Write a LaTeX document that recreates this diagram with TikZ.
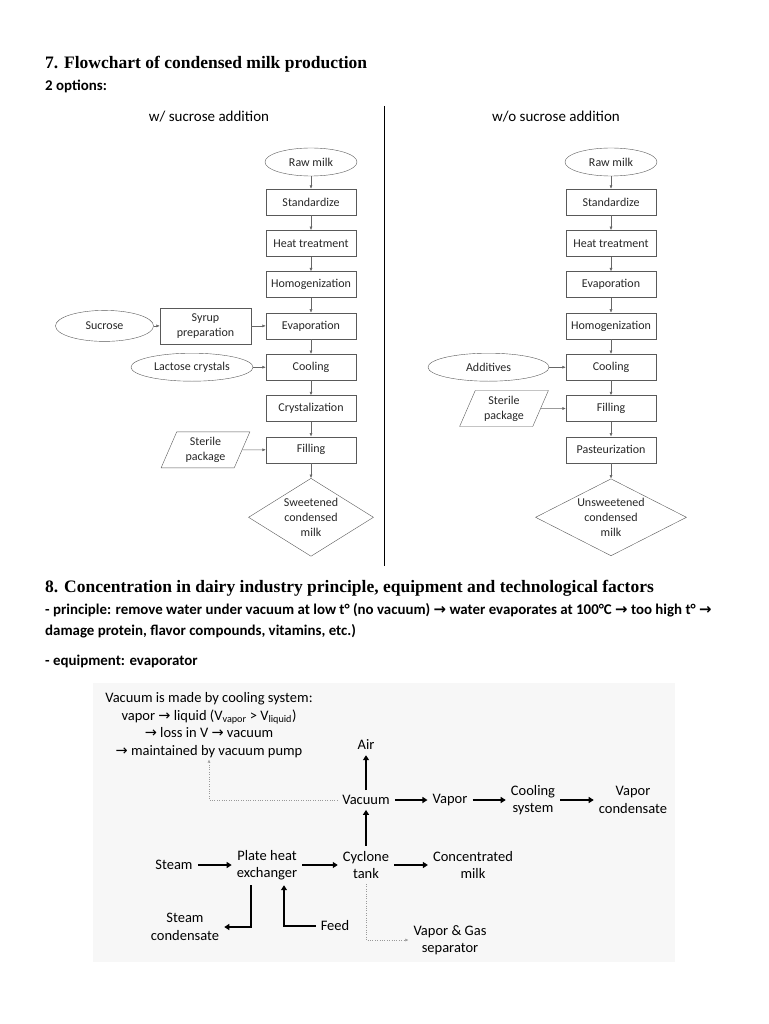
\documentclass[tikz,border=0pt]{standalone}
\usepackage{fontspec}
\setmainfont{Carlito}
\newfontfamily\headfont{Liberation Serif}
\newfontfamily\symfont{DejaVu Sans}
\usepackage{tikz}
\usetikzlibrary{shapes,arrows.meta,positioning}
\newcommand{\rarr}{{\symfont\char"2192}}
\newcommand{\flowfont}{\fontsize{12}{15}\selectfont}
\tikzset{block/.style={draw=black!65, rectangle, font=\flowfont, text=black!85,
		minimum height=26pt, minimum width=90pt, align=center},
	term/.style={draw=black!65, ellipse, font=\flowfont, text=black!85,
		minimum height=28pt, minimum width=92pt, inner sep=1pt},
	decision/.style={draw=black!65, diamond, font=\flowfont, text=black!85,
		align=center, inner sep=0pt},
	io/.style={draw=black!65, trapezium, trapezium left angle=67, trapezium right angle=113,
		trapezium stretches=true, minimum height=36pt, minimum width=89pt,
		font=\flowfont, text=black!85, align=center, inner sep=0pt},
	arrow/.style={draw=black!60, line width=0.5pt, -{Latex[length=3.5pt,width=3pt]}},
	bigarrow/.style={draw, line width=1.5pt, -{Triangle[length=5pt,width=6pt]}},
	dotarrow/.style={draw=black!40, dotted, -{Latex[length=3pt,width=3pt]}},
	stage/.style={font=\fontsize{14.5}{17.5}\selectfont, align=center, inner sep=5pt},
	heading/.style={font=\headfont\bfseries\fontsize{17.5}{20}\selectfont, anchor=west, inner sep=0pt},
	para/.style={font=\bfseries\fontsize{14.9}{18}\selectfont, anchor=west, inner sep=0pt},
	subhead/.style={font=\fontsize{15}{18}\selectfont}}

\begin{document}
\begin{tikzpicture}[x=1pt,y=-1pt,node distance=41.3pt]
	\useasboundingbox (0,0) rectangle (768,1024);
	
	% section 7
	\node [heading] (head7) at (45,64) {7. Flowchart of condensed milk production};
	\node [para] (options) at (45,86) {2 options:};
	\node [subhead] (withS) at (209,117) {w/ sucrose addition};
	\node [subhead] (withoutS) at (556,117) {w/o sucrose addition};
	\draw [line width=1.6pt] (384.5,106)--(384.5,566);
	
	% w/ sucrose
	\node [term] (rawL) at (311,162) {Raw milk};
	\node [block, below of=rawL, node distance=40pt] (stdL) {Standardize};
	\node [block, below of=stdL] (heatL) {Heat treatment};
	\node [block, below of=heatL] (homL) {Homogenization};
	\node [block, below of=homL] (evapL) {Evaporation};
	\node [block, below of=evapL] (coolL) {Cooling};
	\node [block, below of=coolL] (crysL) {Crystalization};
	\node [block, below of=crysL] (fillL) {Filling};
	\node [decision, below of=fillL, node distance=67.5pt, aspect=1.6,
		minimum width=125pt, minimum height=78pt] (sweet) {Sweetened\\condensed\\milk};
	
	\node [block, left of=evapL, node distance=105.5pt, minimum width=91pt, minimum height=36pt] (syrup) {Syrup\\preparation};
	\node [term, left of=syrup, node distance=101pt, minimum width=98pt, minimum height=31pt] (sucrose) {Sucrose};
	\node [term, left of=coolL, node distance=119pt, minimum width=122pt] (lactose) {Lactose crystals};
	\node [io, left of=fillL, node distance=105.5pt] (sterL) {Sterile\\package};
	
	\draw [arrow] (rawL)--(stdL);
	\draw [arrow] (stdL)--(heatL);
	\draw [arrow] (heatL)--(homL);
	\draw [arrow] (homL)--(evapL);
	\draw [arrow] (evapL)--(coolL);
	\draw [arrow] (coolL)--(crysL);
	\draw [arrow] (crysL)--(fillL);
	\draw [arrow] (fillL)--(sweet);
	\draw [arrow] (sucrose)--(syrup);
	\draw [arrow] (syrup)--(evapL);
	\draw [arrow] (lactose)--(coolL);
	\draw [arrow] (sterL)--(fillL);
	
	% w/o sucrose
	\node [term] (rawR) at (611,162) {Raw milk};
	\node [block, below of=rawR, node distance=40pt] (stdR) {Standardize};
	\node [block, below of=stdR] (heatR) {Heat treatment};
	\node [block, below of=heatR] (evapR) {Evaporation};
	\node [block, below of=evapR] (homR) {Homogenization};
	\node [block, below of=homR] (coolR) {Cooling};
	\node [block, below of=coolR] (fillR) {Filling};
	\node [block, below of=fillR] (pastR) {Pasteurization};
	\node [decision, below of=pastR, node distance=67.5pt, aspect=1.96,
		minimum width=151pt, minimum height=77pt] (unsweet) {Unsweetened\\condensed\\milk};
	
	\node [term, left of=coolR, node distance=122.5pt, minimum width=121pt] (additives) {Additives};
	\node [io, left of=fillR, node distance=107pt] (sterR) {Sterile\\package};
	
	\draw [arrow] (rawR)--(stdR);
	\draw [arrow] (stdR)--(heatR);
	\draw [arrow] (heatR)--(evapR);
	\draw [arrow] (evapR)--(homR);
	\draw [arrow] (homR)--(coolR);
	\draw [arrow] (coolR)--(fillR);
	\draw [arrow] (fillR)--(pastR);
	\draw [arrow] (pastR)--(unsweet);
	\draw [arrow] (additives)--(coolR);
	\draw [arrow] (sterR)--(fillR);
	
	% section 8
	\node [heading] (head8) at (45,588) {8. Concentration in dairy industry principle, equipment and technological factors};
	\node [para] (princ1) at (45,610) {- principle: remove water under vacuum at low t° (no vacuum) \rarr{} water evaporates at 100°C \rarr{} too high t° \rarr{}};
	\node [para] (princ2) at (45,631) {damage protein, flavor compounds, vitamins, etc.)};
	\node [para] (equip) at (45,661) {- equipment: evaporator};
	
	% evaporator
	\fill [black!3] (93,683) rectangle (675,962);
	\node [stage, inner sep=2pt] (note) at (209,725) {Vacuum is made by cooling system:\\
		vapor \rarr{} liquid (V\textsubscript{vapor} > V\textsubscript{liquid})\\
		\rarr{} loss in V \rarr{} vacuum\\
		\rarr{} maintained by vacuum pump};
	\node [stage] (vacuum) at (366,800) {Vacuum};
	\node [stage] (air) at (366,745) {Air};
	\node [stage, right of=vacuum, node distance=84pt] (vapor) {Vapor};
	\node [stage, right of=vapor, node distance=83pt] (cooling) {Cooling\\system};
	\node [stage, right of=cooling, node distance=100pt] (vcond) {Vapor\\condensate};
	\node [stage] (cyclone) at (366,865) {Cyclone\\tank};
	\node [stage, left of=cyclone, node distance=99pt] (plate) {Plate heat\\exchanger};
	\node [stage, left of=plate, node distance=93pt] (steam) {Steam};
	\node [stage, right of=cyclone, node distance=107pt] (conc) {Concentrated\\milk};
	\node [stage] (stcond) at (185,927) {Steam\\condensate};
	\node [stage] (feed) at (335,926) {Feed};
	\node [stage] (vgsep) at (450,940) {Vapor \& Gas\\separator};
	
	\draw [bigarrow] (vacuum)--(air);
	\draw [bigarrow] (vacuum)--(vapor);
	\draw [bigarrow] (vapor)--(cooling);
	\draw [bigarrow] (cooling)--(vcond);
	\draw [bigarrow] (steam)--(plate);
	\draw [bigarrow] (plate)--(cyclone);
	\draw [bigarrow] (cyclone)--(conc);
	\draw [bigarrow] (cyclone)--(vacuum);
	\draw [bigarrow] ([xshift=-16pt]plate.south) |- (stcond.east);
	\draw [bigarrow] (feed.west) -| ([xshift=17pt]plate.south);
	\draw [dotarrow] (vacuum.west) -| (note.south);
	\draw [dotarrow] (cyclone.south) |- (vgsep.west);
\end{tikzpicture}
\end{document}
